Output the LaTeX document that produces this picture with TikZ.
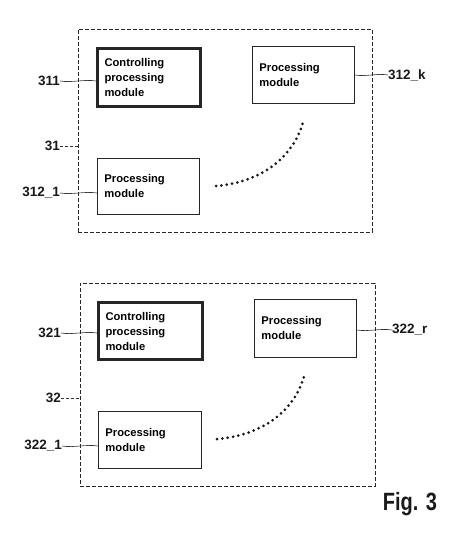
\documentclass[tikz,border=0pt]{standalone}
\usepackage{fontspec}
\setmainfont{Liberation Sans}
\newfontfamily\figfont[FakeStretch=0.8]{Liberation Sans}
\usetikzlibrary{calc}
\begin{document}
\begin{tikzpicture}[x=1pt,y=-1pt,
  outerbox/.style={draw=black!85, dash pattern=on 4pt off 2pt, line width=0.8pt, anchor=north west, inner sep=0pt},
  module/.style={draw=black!85, line width=0.9pt, font=\bfseries\fontsize{11.2}{15}\selectfont, align=left, inner xsep=7pt, inner ysep=0pt, anchor=north west},
  ctrlmodule/.style={module, line width=3pt},
  reflabel/.style={font=\bfseries\fontsize{13.5}{15}\selectfont, inner sep=0pt, text=black!90},
  leader/.style={draw=black!80, line width=0.6pt},
  dashleader/.style={draw=black!80, line width=0.7pt, dash pattern=on 3pt off 2pt},
  dotarc/.style={draw=black!90, line width=3pt, line cap=round, dash pattern=on 0pt off 5.4pt}
]
\useasboundingbox (0,0) rectangle (474,548);

% ---------- upper group 31 ----------
\node[outerbox, minimum width=294pt, minimum height=203pt] (g1) at (78,29) {};
\node[ctrlmodule, minimum height=58pt, text width=89pt] (c1) at (96,47) {Controlling\\processing\\module};
\node[module, minimum height=57pt, text width=88pt] (pk) at (252,46) {Processing\\module};
\node[module, minimum height=56pt, text width=88pt] (p1) at (97,158) {Processing\\module};
\coordinate (d1s) at (216,186);
\coordinate (d1e) at (304,119);
\draw[dotarc] (d1s) .. controls (255,183) and (293,162) .. (d1e);

\node[reflabel, anchor=east] (l311) at (60,81) {311};
\node[reflabel, anchor=west] (l312k) at (388,75) {312\_k};
\node[reflabel, anchor=east] (l31) at (60,146) {31};
\node[reflabel, anchor=east] (l3121) at (60,193) {312\_1};

\draw[leader] (l311.east) .. controls ($(l311.east)!0.35!(c1.west |- l311.east)+(0,2)$) and ($(l311.east)!0.65!(c1.west |- l311.east)+(0,-2)$) .. (c1.west |- l311.east);
\draw[leader] (pk.east |- l312k.west) .. controls ($(pk.east |- l312k.west)!0.35!(l312k.west)+(0,2)$) and ($(pk.east |- l312k.west)!0.65!(l312k.west)+(0,-2)$) .. (l312k.west);
\draw[dashleader] (l31.east) -- (g1.west |- l31.east);
\draw[leader] (l3121.east) .. controls ($(l3121.east)!0.35!(p1.west |- l3121.east)+(0,2)$) and ($(l3121.east)!0.65!(p1.west |- l3121.east)+(0,-2)$) .. (p1.west |- l3121.east);

% ---------- lower group 32 ----------
\node[outerbox, minimum width=295pt, minimum height=203pt] (g2) at (80,283) {};
\node[ctrlmodule, minimum height=57pt, text width=90pt] (c2) at (97,301) {Controlling\\processing\\module};
\node[module, minimum height=58pt, text width=88pt] (pr) at (254,299) {Processing\\module};
\node[module, minimum height=57pt, text width=89pt] (p2) at (98,411) {Processing\\module};
\coordinate (d2s) at (217,439);
\coordinate (d2e) at (305,373);
\draw[dotarc] (d2s) .. controls (256,436) and (294,416) .. (d2e);

\node[reflabel, anchor=east] (l321) at (61,333) {321};
\node[reflabel, anchor=west] (l322r) at (392,330) {322\_r};
\node[reflabel, anchor=east] (l32) at (61,398) {32};
\node[reflabel, anchor=east] (l3221) at (62,446) {322\_1};

\draw[leader] (l321.east) .. controls ($(l321.east)!0.35!(c2.west |- l321.east)+(0,2)$) and ($(l321.east)!0.65!(c2.west |- l321.east)+(0,-2)$) .. (c2.west |- l321.east);
\draw[leader] (pr.east |- l322r.west) .. controls ($(pr.east |- l322r.west)!0.35!(l322r.west)+(0,2)$) and ($(pr.east |- l322r.west)!0.65!(l322r.west)+(0,-2)$) .. (l322r.west);
\draw[dashleader] (l32.east) -- (g2.west |- l32.east);
\draw[leader] (l3221.east) .. controls ($(l3221.east)!0.35!(p2.west |- l3221.east)+(0,2)$) and ($(l3221.east)!0.65!(p2.west |- l3221.east)+(0,-2)$) .. (p2.west |- l3221.east);

\node[font=\figfont\bfseries\fontsize{25}{28}\selectfont, inner sep=0pt, text=black!90] (fig) at (410,504) {Fig. 3};
\end{tikzpicture}
\end{document}
